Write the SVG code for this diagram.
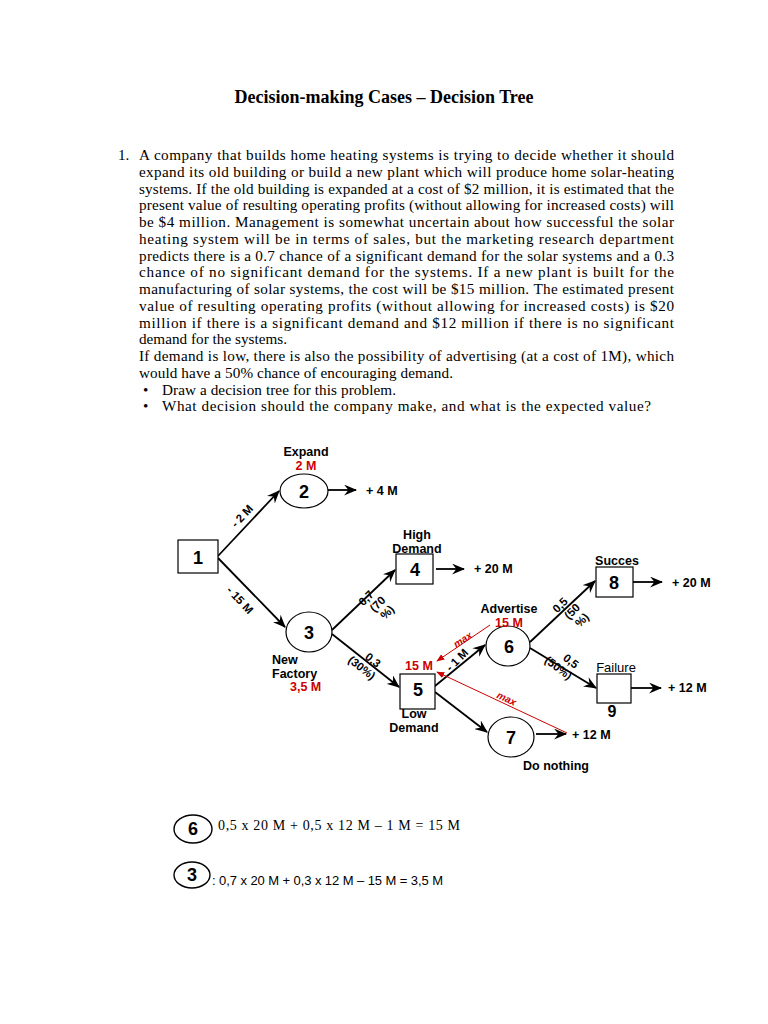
<svg xmlns="http://www.w3.org/2000/svg" width="768" height="1024" viewBox="0 0 768 1024">
<style>
.body{font-family:"Liberation Serif","Times New Roman",serif;font-size:15.2px;fill:#000}
.title{font-family:"Liberation Serif","Times New Roman",serif;font-size:18px;font-weight:bold;fill:#000}
.lbl{font-family:"Liberation Sans",Arial,sans-serif;font-weight:bold;font-size:12.5px;fill:#000}
.lblc{font-family:"Liberation Sans",Arial,sans-serif;font-weight:bold;font-size:12.5px;fill:#000;text-anchor:middle}
.rot{font-family:"Liberation Sans",Arial,sans-serif;font-weight:bold;font-size:11.5px;fill:#000;text-anchor:middle}
.red{fill:#cc0000}
.num{font-family:"Liberation Sans",Arial,sans-serif;font-weight:bold;font-size:18px;text-anchor:middle;fill:#000}
.shape{fill:#fff;stroke:#000;stroke-width:1.2}
.conn{stroke:#000;stroke-width:1.8;fill:none;marker-end:url(#ah)}
.redline{stroke:#cc0000;stroke-width:1;fill:none;marker-end:url(#rah)}
.max{font-family:"Liberation Sans",Arial,sans-serif;font-weight:bold;font-style:italic;font-size:10px;fill:#cc0000;text-anchor:middle}
</style>
<defs>
<marker id="ah" viewBox="0 0 12 10" refX="11" refY="5" markerWidth="13" markerHeight="11" markerUnits="userSpaceOnUse" orient="auto"><path d="M0,0 L12,5 L0,10 L4,5 z" fill="#000"/></marker>
<marker id="rah" viewBox="0 0 10 8" refX="9" refY="4" markerWidth="8" markerHeight="7" markerUnits="userSpaceOnUse" orient="auto"><path d="M0,0 L10,4 L0,8 z" fill="#cc0000"/></marker>
</defs>
<rect width="768" height="1024" fill="#fff"/>

<g id="text-block">
<text class="title" x="384" y="103" text-anchor="middle">Decision-making Cases – Decision Tree</text>
<text class="body" x="118" y="160">1.</text>
<text class="body" x="139" y="160" textLength="535" lengthAdjust="spacing">A company that builds home heating systems is trying to decide whether it should</text>
<text class="body" x="139" y="176.75" textLength="535" lengthAdjust="spacing">expand its old building or build a new plant which will produce home solar-heating</text>
<text class="body" x="139" y="193.5" textLength="535" lengthAdjust="spacing">systems. If the old building is expanded at a cost of $2 million, it is estimated that the</text>
<text class="body" x="139" y="210.25" textLength="535" lengthAdjust="spacing">present value of resulting operating profits (without allowing for increased costs) will</text>
<text class="body" x="139" y="227" textLength="535" lengthAdjust="spacing">be $4 million. Management is somewhat uncertain about how successful the solar</text>
<text class="body" x="139" y="243.75" textLength="535" lengthAdjust="spacing">heating system will be in terms of sales, but the marketing research department</text>
<text class="body" x="139" y="260.5" textLength="535" lengthAdjust="spacing">predicts there is a 0.7 chance of a significant demand for the solar systems and a 0.3</text>
<text class="body" x="139" y="277.25" textLength="535" lengthAdjust="spacing">chance of no significant demand for the systems. If a new plant is built for the</text>
<text class="body" x="139" y="294" textLength="535" lengthAdjust="spacing">manufacturing of solar systems, the cost will be $15 million. The estimated present</text>
<text class="body" x="139" y="310.75" textLength="535" lengthAdjust="spacing">value of resulting operating profits (without allowing for increased costs) is $20</text>
<text class="body" x="139" y="327.5" textLength="535" lengthAdjust="spacing">million if there is a significant demand and $12 million if there is no significant</text>
<text class="body" x="139" y="344.25" textLength="148" lengthAdjust="spacing">demand for the systems.</text>
<text class="body" x="139" y="361" textLength="535" lengthAdjust="spacing">If demand is low, there is also the possibility of advertising (at a cost of 1M), which</text>
<text class="body" x="139" y="377.75" textLength="314" lengthAdjust="spacing">would have a 50% chance of encouraging demand.</text>
<text class="body" x="143" y="394.5">•</text>
<text class="body" x="162" y="394.5" textLength="234" lengthAdjust="spacing">Draw a decision tree for this problem.</text>
<text class="body" x="143" y="411.25">•</text>
<text class="body" x="162" y="411.25" textLength="489" lengthAdjust="spacing">What decision should the company make, and what is the expected value?</text>
</g>

<g id="connectors">
<path class="conn" d="M218,556 L279,491"/>
<path class="conn" d="M218,558 L285,627"/>
<path class="conn" d="M332,630 L395,570"/>
<path class="conn" d="M332,634 L399,687"/>
<path class="conn" d="M435,686 L485,645"/>
<path class="conn" d="M435,692 L487,732"/>
<path class="conn" d="M530,642 L595,581"/>
<path class="conn" d="M530,648 L596,688"/>
<path class="conn" d="M328,490 L356,490"/>
<path class="conn" d="M436,569 L464,569"/>
<path class="conn" d="M633,582 L662,582"/>
<path class="conn" d="M631,688 L661,688"/>
<path class="conn" d="M536,734 L566,734"/>
<path class="redline" d="M490,625 L437,661"/>
<path class="redline" d="M567,733 L437,672"/>
<g transform="translate(242,516) rotate(-47)"><text class="rot" x="0" y="4">- 2 M</text></g>
<g transform="translate(240,600) rotate(47)"><text class="rot" x="0" y="4">- 15 M</text></g>
<g transform="translate(366,598) rotate(-45)"><text class="rot" x="0" y="4">0,7</text><text class="rot" x="4" y="16.5">(70</text><text class="rot" x="5" y="29">%)</text></g>
<g transform="translate(373,660) rotate(38)"><text class="rot" x="0" y="4">0,3</text><text class="rot" x="-4" y="17">(30%)</text></g>
<g transform="translate(457,660) rotate(-45)"><text class="rot" x="0" y="4">- 1 M</text></g>
<g transform="translate(560,605) rotate(-45)"><text class="rot" x="0" y="4">0,5</text><text class="rot" x="4" y="17">(50</text><text class="rot" x="5" y="30">%)</text></g>
<g transform="translate(571,661) rotate(37)"><text class="rot" x="0" y="4">0,5</text><text class="rot" x="-6" y="17">(50%)</text></g>
<g transform="translate(463,640) rotate(-33)"><text class="max" x="0" y="3">max</text></g>
<g transform="translate(506,700) rotate(25)"><text class="max" x="0" y="2">max</text></g>
</g>

<g id="node1">
<rect class="shape" x="178" y="540" width="40" height="33"/>
<text class="num" x="198" y="563.5">1</text>
</g>
<g id="node2">
<ellipse class="shape" cx="304" cy="491" rx="24" ry="17"/>
<text class="num" x="304" y="497.5">2</text>
<text class="lblc" x="306" y="456">Expand</text>
<text class="lblc red" x="306" y="470">2 M</text>
<text class="lbl" x="366" y="495">+ 4 M</text>
</g>
<g id="node3">
<ellipse class="shape" cx="309" cy="632" rx="23" ry="20"/>
<text class="num" x="309" y="638.5">3</text>
<text class="lbl" x="272" y="664">New</text>
<text class="lbl" x="272" y="678">Factory</text>
<text class="lbl red" x="290" y="691">3,5 M</text>
</g>
<g id="node4">
<rect class="shape" x="396" y="554" width="37" height="30"/>
<text class="num" x="415" y="576">4</text>
<text class="lblc" x="417" y="539">High</text>
<text class="lblc" x="417" y="553">Demand</text>
<text class="lbl" x="474" y="573">+ 20 M</text>
</g>
<g id="node5">
<rect class="shape" x="400" y="674" width="35" height="35"/>
<text class="num" x="418" y="695.5">5</text>
<text class="lblc red" x="419" y="670">15 M</text>
<text class="lblc" x="414" y="718">Low</text>
<text class="lblc" x="414" y="732">Demand</text>
</g>
<g id="node6">
<ellipse class="shape" cx="508" cy="646" rx="22" ry="20"/>
<text class="num" x="509" y="652.5">6</text>
<text class="lblc" x="509" y="613">Advertise</text>
<text class="lblc red" x="509" y="627">15 M</text>
</g>
<g id="node7">
<ellipse class="shape" cx="511" cy="737" rx="23" ry="20"/>
<text class="num" x="511" y="743.5">7</text>
<text class="lblc" x="556" y="770">Do nothing</text>
<text class="lbl" x="572" y="739">+ 12 M</text>
</g>
<g id="node8">
<rect class="shape" x="596" y="567" width="37" height="30"/>
<text class="num" x="614" y="589">8</text>
<text class="lblc" x="617" y="565">Succes</text>
<text class="lbl" x="672" y="587">+ 20 M</text>
</g>
<g id="node9">
<rect class="shape" x="597" y="674" width="34" height="29"/>
<text class="num" x="612" y="717" style="font-size:16px">9</text>
<text class="lblc" x="616" y="672" style="font-weight:normal;font-size:13px">Failure</text>
<text class="lbl" x="668" y="692">+ 12 M</text>
</g>

<g id="equations">
<ellipse cx="193" cy="829" rx="19" ry="14" fill="none" stroke="#000" stroke-width="1.4"/>
<text class="num" x="193" y="835">6</text>
<text class="body" x="218" y="830" textLength="242" lengthAdjust="spacing" style="font-size:14px">0,5 x 20 M + 0,5 x 12 M – 1 M = 15 M</text>
<ellipse cx="192" cy="875" rx="18" ry="13" fill="none" stroke="#000" stroke-width="1.4"/>
<text class="num" x="192" y="881">3</text>
<text x="212" y="885" textLength="231" lengthAdjust="spacing" style="font-family:'Liberation Sans',Arial,sans-serif;font-size:13px">: 0,7 x 20 M + 0,3 x 12 M – 15 M = 3,5 M</text>
</g>
</svg>
